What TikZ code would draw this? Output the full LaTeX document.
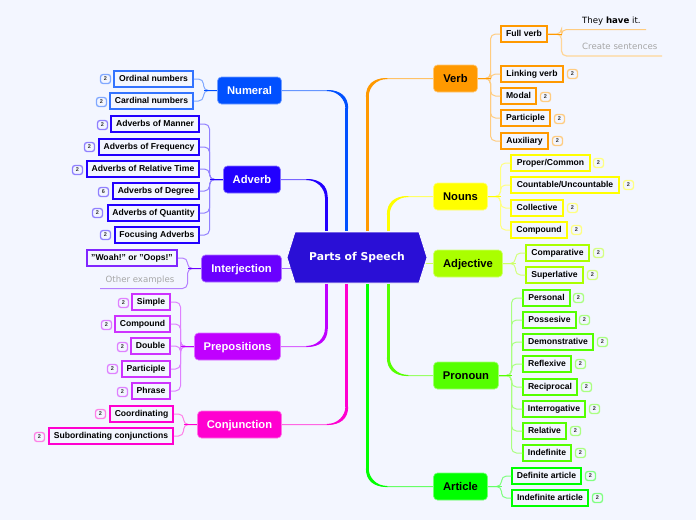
\documentclass[tikz,border=0pt]{standalone}
\usepackage{fontspec}
\setmainfont{Liberation Sans}
\newfontfamily\dejavu{DejaVu Sans}
\definecolor{bgc}{HTML}{F3F6FF}
\definecolor{cNum}{HTML}{0050FF}
\definecolor{cAdv}{HTML}{2200FF}
\definecolor{cInt}{HTML}{6A00FF}
\definecolor{cPre}{HTML}{C000FF}
\definecolor{cCon}{HTML}{FF00D0}
\definecolor{cVer}{HTML}{FF9900}
\definecolor{cNou}{HTML}{FFFF00}
\definecolor{cAdj}{HTML}{AAFF00}
\definecolor{cPro}{HTML}{55FF00}
\definecolor{cArt}{HTML}{00FF00}
\definecolor{cHub}{HTML}{2A0FD6}
\tikzset{
  x=1pt,y=-1pt,
  leafbox/.style={draw=#1,line width=1.5pt,fill=bgc,inner sep=0pt,text=black,
    text height=6.4pt,text depth=.5pt,
    font=\fontsize{8.6}{10}\selectfont\bfseries},
  mainbox/.style={draw=#1!55!white,line width=.7pt,fill=#1,rounded corners=4pt,inner sep=0pt,
    text height=8pt,text depth=.6pt,
    font=\fontsize{11.2}{13}\selectfont\bfseries},
  badgebox/.style={draw=#1!50!white,line width=1.3pt,fill=bgc,rounded corners=2.5pt,inner sep=0pt,
    minimum width=10pt,minimum height=9pt,text=black!80,text height=3.8pt,text depth=0pt,
    font=\fontsize{5.5}{6}\selectfont\bfseries},
  plainnote/.style={inner sep=0pt,anchor=west,text height=6.5pt,text depth=.8pt,
    font=\dejavu\fontsize{8.6}{10}\selectfont},
}
\newcommand\leafn[6]{%
  \pgfmathsetmacro\xa{round(#2+.9)}%
  \pgfmathsetmacro\xb{round(#3-.9)}%
  \pgfmathsetmacro\yc{round(#4)}%
  \node[leafbox=#6,minimum width={\xb-\xa},minimum height=16pt] (#1) at ({(\xa+\xb)/2},\yc) {#5};}
\newcommand\mainn[7]{%
  \pgfmathsetmacro\xa{floor(#2)+.5}%
  \pgfmathsetmacro\xb{floor(#3-.35)+.5}%
  \pgfmathsetmacro\yc{floor(#4)+.5}%
  \node[mainbox=#6,text=#7,minimum width={\xb-\xa},minimum height=27pt] (#1) at ({(\xa+\xb)/2},\yc) {#5};}
\newcommand\badgen[5]{%
  \pgfmathsetmacro\xc{floor(#2)+.5}%
  \pgfmathsetmacro\yc{round(#3)}%
  \node[badgebox=#4] (#1) at (\xc,\yc) {#5};}
% colour, from, hub coordinate, x direction, y direction
\newcommand\branch[5]{%
  \draw[#1!60!white,line width=1pt,rounded corners=18pt] (#2) -| (#3);
  \draw[#1,line width=2.8pt,shorten >=17.5pt] (#3) -- (#3|-#2);
  \begin{scope}[shift={(#3|-#2)},xscale=#4,yscale=#5]
    \fill[#1] (-1.4,18) .. controls (-1.4,6) and (6,-0.5) .. (20,-0.5) -- (20,0.5) .. controls (9,0.5) and (1.4,9) .. (1.4,18) -- cycle;
  \end{scope}}
% colour, parent anchor, junction coordinate, leaf anchor
\newcommand\twig[4]{\draw[#1!50!white,line width=1pt,rounded corners=5pt] (#2) -- (#3|-#2) -- (#3|-#4) -- (#4);}
\newcommand\stem[3]{\draw[#1,line width=1pt] (#2) -- (#3|-#2);}
\begin{document}
\begin{tikzpicture}
\fill[bgc] (0,0) rectangle (696,520);
\useasboundingbox (0,0) rectangle (696,520);
% hub
\fill[cHub,draw=white,line width=.8pt] (295,232) -- (419,232) -- (427,257.5) -- (419,283) -- (295,283) -- (287,257.5) -- cycle;
\node[inner sep=0pt,text=white,text height=8pt,text depth=1.2pt,font=\dejavu\fontsize{10.8}{12}\selectfont\bfseries] (hub) at (357,257.5) {Parts of Speech};
% main nodes
\mainn{numeral}{217}{282}{90}{Numeral}{cNum}{white}
\mainn{adverb}{223}{281}{179.5}{Adverb}{cAdv}{white}
\mainn{interj}{201}{282}{268}{Interjection}{cInt}{white}
\mainn{prep}{194}{281}{346}{Prepositions}{cPre}{white}
\mainn{conj}{197}{282}{424}{Conjunction}{cCon}{white}
\mainn{verb}{433}{478}{78}{Verb}{cVer}{black}
\mainn{nouns}{433}{488}{196}{Nouns}{cNou}{black}
\mainn{adj}{433}{503}{263}{Adjective}{cAdj}{black}
\mainn{pron}{433}{499}{375}{Pronoun}{cPro}{black}
\mainn{art}{433}{488}{486.5}{Article}{cArt}{black}
% left leaves
\leafn{n1}{113.5}{194}{79}{Ordinal numbers}{cNum!80!white}
\leafn{n2}{109}{194}{101.3}{Cardinal numbers}{cNum!80!white}
\badgen{bn1}{105}{79}{cNum}{2}
\badgen{bn2}{101}{101.5}{cNum}{2}
\leafn{a1}{110.5}{199.5}{124}{Adverbs of Manner}{cAdv}
\leafn{a2}{98}{199.5}{146.5}{Adverbs of Frequency}{cAdv}
\leafn{a3}{86}{200}{168.5}{Adverbs of Relative Time}{cAdv}
\leafn{a4}{112}{199.5}{190.5}{Adverbs of Degree}{cAdv}
\leafn{a5}{107}{199.5}{213}{Adverbs of Quantity}{cAdv}
\leafn{a6}{114}{200}{235}{Focusing Adverbs}{cAdv}
\badgen{ba1}{102}{124.5}{cAdv}{2}
\badgen{ba2}{89}{147}{cAdv}{2}
\badgen{ba3}{77.5}{169.5}{cAdv}{2}
\badgen{ba4}{103}{191.5}{cAdv}{6}
\badgen{ba5}{97.5}{213}{cAdv}{2}
\badgen{ba6}{105}{235}{cAdv}{2}
\leafn{i1}{86}{178}{258}{"Woah!" or "Oops!"}{cInt!85!white}
\node[plainnote,text=black!35] (i2) at (105.5,280) {Other examples};
\leafn{p1}{131.5}{170.5}{302}{Simple}{cPre!80!white}
\leafn{p2}{114.5}{170.5}{324}{Compound}{cPre!80!white}
\leafn{p3}{130.5}{170.5}{346.4}{Double}{cPre!80!white}
\leafn{p4}{121}{171}{368.5}{Participle}{cPre!80!white}
\leafn{p5}{131}{170.5}{391}{Phrase}{cPre!80!white}
\badgen{bp1}{123}{302.5}{cPre}{2}
\badgen{bp2}{106}{324.5}{cPre}{2}
\badgen{bp3}{122}{346.5}{cPre}{2}
\badgen{bp4}{112.5}{369}{cPre}{2}
\badgen{bp5}{122.5}{391.5}{cPre}{2}
\leafn{c1}{109}{174}{413.5}{Coordinating}{cCon}
\leafn{c2}{48}{173.5}{436}{Subordinating conjunctions}{cCon}
\badgen{bc1}{100}{414}{cCon}{2}
\badgen{bc2}{39}{436.5}{cCon}{2}
% right leaves
\leafn{v1}{500.5}{548}{34}{Full verb}{cVer}
\leafn{v2}{500.5}{563.5}{73.5}{Linking verb}{cVer}
\leafn{v3}{500.5}{537}{96}{Modal}{cVer}
\leafn{v4}{500.5}{551}{118}{Participle}{cVer}
\leafn{v5}{500.5}{548.5}{140.5}{Auxiliary}{cVer}
\badgen{bv2}{572}{74}{cVer}{2}
\badgen{bv3}{545}{96.5}{cVer}{2}
\badgen{bv4}{559}{118.5}{cVer}{2}
\badgen{bv5}{557}{140.5}{cVer}{2}
\node[plainnote] (v1a) at (582,21) {They \textbf{have} it.};
\node[plainnote,text=black!35] (v1b) at (582,47) {Create sentences};
\leafn{s1}{510.5}{590.5}{163}{Proper/Common}{cNou}
\leafn{s2}{510.5}{619.5}{185}{Countable/Uncountable}{cNou}
\leafn{s3}{510.5}{563.5}{207.5}{Collective}{cNou}
\leafn{s4}{510.5}{568}{229.5}{Compound}{cNou}
\badgen{bs1}{598}{163}{cNou}{2}
\badgen{bs2}{628}{185}{cNou}{2}
\badgen{bs3}{572}{207.5}{cNou}{2}
\badgen{bs4}{576}{230}{cNou}{2}
\leafn{j1}{525.5}{590}{253}{Comparative}{cAdj}
\leafn{j2}{525.5}{583.5}{275}{Superlative}{cAdj}
\badgen{bj1}{598}{253}{cAdj}{2}
\badgen{bj2}{592}{275}{cAdj}{2}
\leafn{r1}{522}{570.5}{297.5}{Personal}{cPro}
\leafn{r2}{522}{576.5}{320}{Possesive}{cPro}
\leafn{r3}{522}{593.5}{342}{Demonstrative}{cPro}
\leafn{r4}{522}{571.5}{364}{Reflexive}{cPro}
\leafn{r5}{522}{578}{386.5}{Reciprocal}{cPro}
\leafn{r6}{522}{586}{408.5}{Interrogative}{cPro}
\leafn{r7}{522}{567}{431}{Relative}{cPro}
\leafn{r8}{522}{572}{453}{Indefinite}{cPro}
\badgen{br1}{578}{298}{cPro}{2}
\badgen{br2}{584}{320}{cPro}{2}
\badgen{br3}{602}{342}{cPro}{2}
\badgen{br4}{580}{364}{cPro}{2}
\badgen{br5}{586}{386.5}{cPro}{2}
\badgen{br6}{594}{409}{cPro}{2}
\badgen{br7}{575}{431}{cPro}{2}
\badgen{br8}{580}{453}{cPro}{2}
\leafn{t1}{511}{582}{476}{Definite article}{cArt}
\leafn{t2}{511}{588.5}{498}{Indefinite article}{cArt}
\badgen{bt1}{590}{476}{cArt}{2}
\badgen{bt2}{597}{498}{cArt}{2}
% hub attachment points
\coordinate (hNum) at (346.8,230.5);
\coordinate (hAdv) at (326.3,230.5);
\coordinate (hVer) at (367.3,230.5);
\coordinate (hNou) at (388.3,230.5);
\coordinate (hPre) at (326.3,284.3);
\coordinate (hCon) at (346.8,284.3);
\coordinate (hArt) at (367.3,284.3);
\coordinate (hPro) at (388.3,284.3);
\coordinate (hInt) at (291,268.5);
\coordinate (hAdj) at (426,263.5);
% main branches
\branch{cNum}{numeral.east}{hNum}{-1}{1}
\branch{cAdv}{adverb.east}{hAdv}{-1}{1}
\branch{cVer}{verb.west}{hVer}{1}{1}
\branch{cNou}{nouns.west}{hNou}{1}{1}
\branch{cPre}{prep.east}{hPre}{-1}{-1}
\branch{cCon}{conj.east}{hCon}{-1}{-1}
\branch{cArt}{art.west}{hArt}{1}{-1}
\branch{cPro}{pron.west}{hPro}{1}{-1}
\draw[cInt!60!white,line width=1pt] (interj.east) -- (hInt);
\draw[cAdj!60!white,line width=1pt] (adj.west) -- (hAdj);
% junction columns
\coordinate (jn) at (203.5,0);
\coordinate (ja) at (209.5,0);
\coordinate (ji) at (187.5,0);
\coordinate (jp) at (180.5,0);
\coordinate (jc) at (183.5,0);
\coordinate (jv) at (490.5,0);
\coordinate (jf) at (561.5,0);
\coordinate (js) at (500.5,0);
\coordinate (jj) at (515.5,0);
\coordinate (jr) at (511.5,0);
\coordinate (jt) at (501.5,0);
\foreach \l in {n1,n2} {\twig{cNum}{numeral.west}{jn}{\l.east}}
\stem{cNum}{numeral.west}{jn}
\foreach \l in {a1,a2,a3,a4,a5,a6} {\twig{cAdv}{adverb.west}{ja}{\l.east}}
\stem{cAdv}{adverb.west}{ja}
\twig{cInt}{interj.west}{ji}{i1.east}
\coordinate (i2a) at (100,288.5);
\twig{cInt}{interj.west}{ji}{i2a}
\stem{cInt}{interj.west}{ji}
\foreach \l in {p1,p2,p3,p4,p5} {\twig{cPre}{prep.west}{jp}{\l.east}}
\stem{cPre}{prep.west}{jp}
\foreach \l in {c1,c2} {\twig{cCon}{conj.west}{jc}{\l.east}}
\stem{cCon}{conj.west}{jc}
\foreach \l in {v1,v2,v3,v4,v5} {\twig{cVer}{verb.east}{jv}{\l.west}}
\stem{cVer}{verb.east}{jv}
\coordinate (v1ae) at (646,29.5);
\coordinate (v1be) at (662,56);
\twig{cVer}{v1.east}{jf}{v1ae}
\draw[cVer!40!white,line width=1.2pt,rounded corners=5pt] (v1.east) -- (jf|-v1.east) -- (jf|-v1be) -- (v1be);
\stem{cVer}{v1.east}{jf}
\foreach \l in {s1,s2,s3,s4} {\twig{cNou}{nouns.east}{js}{\l.west}}
\stem{cNou}{nouns.east}{js}
\foreach \l in {j1,j2} {\twig{cAdj}{adj.east}{jj}{\l.west}}
\stem{cAdj!60!white}{adj.east}{jj}
\foreach \l in {r1,r2,r3,r4,r5,r6,r7,r8} {\twig{cPro}{pron.east}{jr}{\l.west}}
\stem{cPro}{pron.east}{jr}
\foreach \l in {t1,t2} {\twig{cArt}{art.east}{jt}{\l.west}}
\stem{cArt!60!white}{art.east}{jt}
\end{tikzpicture}
\end{document}
